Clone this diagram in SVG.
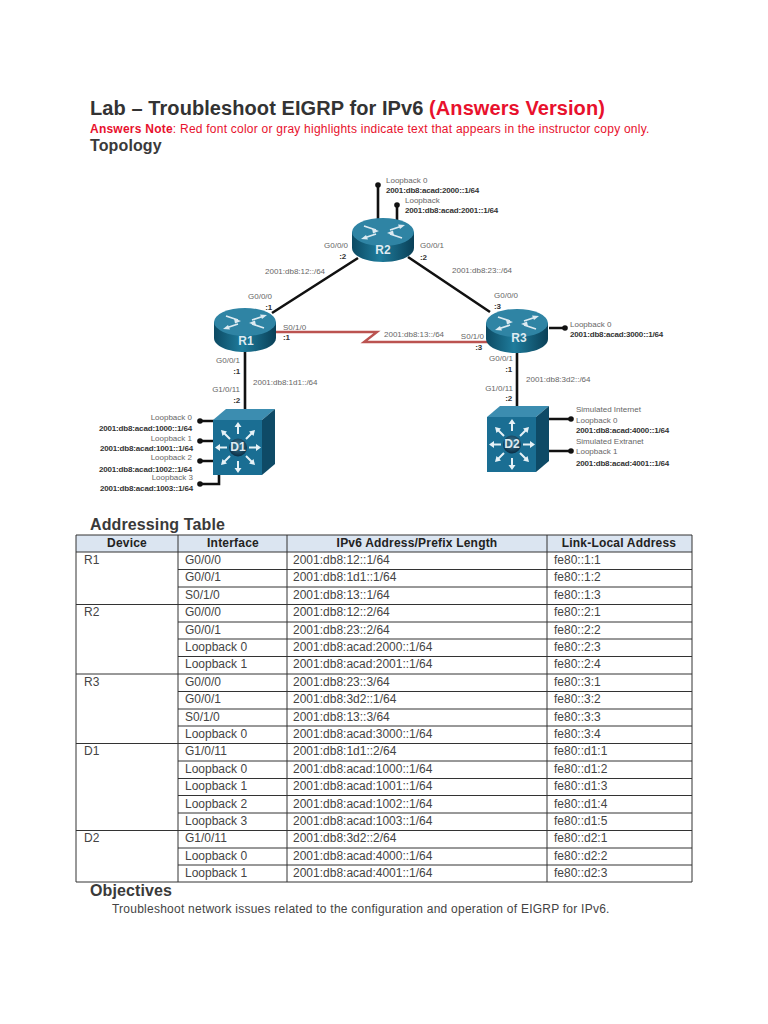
<svg xmlns="http://www.w3.org/2000/svg" width="768" height="1024" viewBox="0 0 768 1024">
<style>
text{font-family:"Liberation Sans",Arial,sans-serif;fill:#333}
.h1{font-size:20px;font-weight:bold;letter-spacing:.08px}
.h2{font-size:16px;font-weight:bold;letter-spacing:.12px;fill:#3a3a3a}
.note{font-size:12px;fill:#e8112d;letter-spacing:.235px}
.l{font-size:8px;fill:#666}
.a{font-size:8px;font-weight:bold;fill:#333;letter-spacing:-.16px}
.dev{font-size:12px;font-weight:bold;fill:#dfeaf1;text-anchor:middle}
.th{font-size:12px;font-weight:bold;text-anchor:middle;fill:#222;letter-spacing:.2px}
.td{font-size:12px;fill:#444}
.ob{letter-spacing:.24px}
.e{text-anchor:end}
.grid{stroke:#333;stroke-width:1;fill:none}
.link{stroke:#111;stroke-width:2.600;fill:none}
.dot{fill:#111}
</style>
<defs>
<linearGradient id="rb" x1="0" x2="1" y1="0" y2="0"><stop offset="0" stop-color="#0c4a63"/><stop offset=".45" stop-color="#1f7c9c"/><stop offset="1" stop-color="#0a4057"/></linearGradient>
<radialGradient id="ball" cx=".5" cy=".4" r=".6"><stop offset="0" stop-color="#3e7f9c"/><stop offset="1" stop-color="#0a2d44"/></radialGradient>
<g id="router">
<path d="M-31-8V8C-31 16-17 22 0 22S31 16 31 8V-8Z" fill="url(#rb)"/>
<ellipse cx="0" cy="-8" rx="31" ry="14" fill="#2f84a4"/>
<g stroke="#dceaf1" stroke-width="1.800" fill="none"><path d="M-19-14L-7-10M19-14L7-10M-19-2L-7-6M19-2L7-6"/></g>
<path d="M-4-9l-7-2.500 1 5zM22-15l-7-.5 2 4.500zM-22-1l7 .5-2-4.500zM4-7l7 2.500-1-5z" fill="#dceaf1"/>
</g>
<g id="switch">
<path d="M0 0L13-11H62L49 0Z" fill="#3c8db0"/>
<path d="M49 0L62-11V44L49 55Z" fill="#0e4a66"/>
<rect width="49" height="55" fill="#1a6e93"/>
<g stroke="#e6f1f6" stroke-width="2" fill="none">
<path d="M25 14V5M25 41V50M14 27.500H5M36 27.500H45M17 19L11 13M33 19L39 13M17 36L11 42M33 36L39 42"/>
</g>
<g fill="#e6f1f6"><path d="M25 2l-3.500 5h7zM25 53l-3.500-5h7zM2 27.500l5-3.500v7zM48 27.500l-5-3.500v7zM8 10l6 1.500-4.500 4.500zM42 10l-6 1.500 4.500 4.500zM8 45l6-1.500-4.500-4.500zM42 45l-6-1.500 4.500-4.500z"/></g>
<circle cx="25" cy="27.500" r="9" fill="url(#ball)"/>
</g>
</defs>

<rect width="768" height="1024" fill="#fff"/>

<g id="heading">
<text x="90" y="115" class="h1">Lab – Troubleshoot EIGRP for IPv6 <tspan fill="#e8112d">(Answers Version)</tspan></text>
<text x="90" y="133" class="note"><tspan font-weight="bold">Answers Note</tspan>: Red font color or gray highlights indicate text that appears in the instructor copy only.</text>
<text x="90" y="151" class="h2">Topology</text>
</g>

<g id="connectors">
<path class="link" d="M272 313L358 258M408 257L490 312M245 350V420M517 352V408"/>
<path d="M276 332H377L364 342H490" fill="none" stroke="#bb5350" stroke-width="2.400"/>
<path class="link" d="M378 185V220M397 205V220"/>
<path class="link" d="M549 328H565M538 419H571M538 451H571"/>
<path class="link" d="M200 421H215M200 441H215M200 461H215M200 484H219V474"/>
<g class="dot"><circle cx="378" cy="185" r="2.800"/><circle cx="397" cy="205" r="2.800"/><circle cx="565" cy="328" r="2.800"/><circle cx="571" cy="419" r="2.800"/><circle cx="571" cy="451" r="2.800"/><circle cx="200" cy="421" r="2.800"/><circle cx="200" cy="441" r="2.800"/><circle cx="200" cy="461" r="2.800"/><circle cx="200" cy="484" r="2.800"/></g>
</g>

<g id="R2">
<use href="#router" x="383" y="240"/>
<text x="383" y="254" class="dev">R2</text>
<text x="386" y="183" class="l">Loopback 0</text>
<text x="386" y="193" class="a">2001:db8:acad:2000::1/64</text>
<text x="405" y="203" class="l">Loopback</text>
<text x="405" y="213" class="a">2001:db8:acad:2001::1/64</text>
<text x="348" y="248" class="l e">G0/0/0</text>
<text x="346" y="259" class="a e">:2</text>
<text x="420" y="248" class="l">G0/0/1</text>
<text x="420" y="260" class="a">:2</text>
<text x="265" y="274" class="l">2001:db8:12::/64</text>
<text x="452" y="273" class="l">2001:db8:23::/64</text>
</g>

<g id="R1">
<use href="#router" x="245" y="330"/>
<text x="246" y="345" class="dev">R1</text>
<text x="248" y="299" class="l">G0/0/0</text>
<text x="272" y="310" class="a e">:1</text>
<text x="283" y="330" class="l">S0/1/0</text>
<text x="283" y="340" class="a">:1</text>
<text x="240" y="363" class="l e">G0/0/1</text>
<text x="240" y="374" class="a e">:1</text>
<text x="384" y="337" class="l">2001:db8:13::/64</text>
</g>

<g id="R3">
<use href="#router" x="517" y="331"/>
<text x="519" y="342" class="dev">R3</text>
<text x="494" y="298" class="l">G0/0/0</text>
<text x="494" y="309" class="a">:3</text>
<text x="484" y="339" class="l e">S0/1/0</text>
<text x="482" y="350" class="a e">:3</text>
<text x="513" y="361" class="l e">G0/0/1</text>
<text x="512" y="372" class="a e">:1</text>
<text x="570" y="327" class="l">Loopback 0</text>
<text x="570" y="337" class="a">2001:db8:acad:3000::1/64</text>
<text x="526" y="382" class="l">2001:db8:3d2::/64</text>
</g>

<g id="D1">
<use href="#switch" x="213" y="420"/>
<text x="238" y="451" class="dev">D1</text>
<text x="240" y="392" class="l e">G1/0/11</text>
<text x="240" y="403" class="a e">:2</text>
<text x="253" y="385" class="l">2001:db8:1d1::/64</text>
<text x="192" y="420" class="l e">Loopback 0</text>
<text x="192" y="431" class="a e">2001:db8:acad:1000::1/64</text>
<text x="192" y="441" class="l e">Loopback 1</text>
<text x="193" y="451" class="a e">2001:db8:acad:1001::1/64</text>
<text x="192" y="460" class="l e">Loopback 2</text>
<text x="192" y="472" class="a e">2001:db8:acad:1002::1/64</text>
<text x="193" y="480" class="l e">Loopback 3</text>
<text x="193" y="491" class="a e">2001:db8:acad:1003::1/64</text>
</g>

<g id="D2">
<use href="#switch" x="487" y="417"/>
<text x="512" y="448" class="dev">D2</text>
<text x="513" y="391" class="l e">G1/0/11</text>
<text x="512" y="401" class="a e">:2</text>
<text x="576" y="412" class="l">Simulated Internet</text>
<text x="576" y="423" class="l">Loopback 0</text>
<text x="576" y="433" class="a">2001:db8:acad:4000::1/64</text>
<text x="576" y="444" class="l">Simulated Extranet</text>
<text x="576" y="454" class="l">Loopback 1</text>
<text x="576" y="466" class="a">2001:db8:acad:4001::1/64</text>
</g>

<g id="table">
<text x="90" y="530" class="h2">Addressing Table</text>
<rect x="76" y="535" width="616" height="17" fill="#dbe5f1"/>
<path class="grid" d="M76 535H692V882H76ZM76 552H692M178 535V882M287 535V882M547 535V882"/>
<path class="grid" d="M178 569.500H692M178 587H692M76 604.500H692M178 622H692M178 639H692M178 656.500H692M76 674H692M178 691.500H692M178 709H692M178 726H692M76 743.500H692M178 761H692M178 778.500H692M178 795.500H692M178 813H692M76 830.500H692M178 848H692M178 865H692"/>
<text x="127" y="547" class="th">Device</text><text x="233" y="547" class="th">Interface</text><text x="417" y="547" class="th">IPv6 Address/Prefix Length</text><text x="619" y="547" class="th">Link-Local Address</text>
<g class="td">
<text x="84" y="564" class="td">R1</text><text x="84" y="616" class="td">R2</text><text x="84" y="686" class="td">R3</text><text x="84" y="755" class="td">D1</text><text x="84" y="842" class="td">D2</text>
<text x="185" y="564" class="td">G0/0/0</text><text x="293" y="564" class="td">2001:db8:12::1/64</text><text x="554" y="564" class="td">fe80::1:1</text>
<text x="185" y="581" class="td">G0/0/1</text><text x="293" y="581" class="td">2001:db8:1d1::1/64</text><text x="554" y="581" class="td">fe80::1:2</text>
<text x="185" y="599" class="td">S0/1/0</text><text x="293" y="599" class="td">2001:db8:13::1/64</text><text x="554" y="599" class="td">fe80::1:3</text>
<text x="185" y="616" class="td">G0/0/0</text><text x="293" y="616" class="td">2001:db8:12::2/64</text><text x="554" y="616" class="td">fe80::2:1</text>
<text x="185" y="634" class="td">G0/0/1</text><text x="293" y="634" class="td">2001:db8:23::2/64</text><text x="554" y="634" class="td">fe80::2:2</text>
<text x="185" y="651" class="td">Loopback 0</text><text x="293" y="651" class="td">2001:db8:acad:2000::1/64</text><text x="554" y="651" class="td">fe80::2:3</text>
<text x="185" y="668" class="td">Loopback 1</text><text x="293" y="668" class="td">2001:db8:acad:2001::1/64</text><text x="554" y="668" class="td">fe80::2:4</text>
<text x="185" y="686" class="td">G0/0/0</text><text x="293" y="686" class="td">2001:db8:23::3/64</text><text x="554" y="686" class="td">fe80::3:1</text>
<text x="185" y="703" class="td">G0/0/1</text><text x="293" y="703" class="td">2001:db8:3d2::1/64</text><text x="554" y="703" class="td">fe80::3:2</text>
<text x="185" y="721" class="td">S0/1/0</text><text x="293" y="721" class="td">2001:db8:13::3/64</text><text x="554" y="721" class="td">fe80::3:3</text>
<text x="185" y="738" class="td">Loopback 0</text><text x="293" y="738" class="td">2001:db8:acad:3000::1/64</text><text x="554" y="738" class="td">fe80::3:4</text>
<text x="185" y="755" class="td">G1/0/11</text><text x="293" y="755" class="td">2001:db8:1d1::2/64</text><text x="554" y="755" class="td">fe80::d1:1</text>
<text x="185" y="773" class="td">Loopback 0</text><text x="293" y="773" class="td">2001:db8:acad:1000::1/64</text><text x="554" y="773" class="td">fe80::d1:2</text>
<text x="185" y="790" class="td">Loopback 1</text><text x="293" y="790" class="td">2001:db8:acad:1001::1/64</text><text x="554" y="790" class="td">fe80::d1:3</text>
<text x="185" y="808" class="td">Loopback 2</text><text x="293" y="808" class="td">2001:db8:acad:1002::1/64</text><text x="554" y="808" class="td">fe80::d1:4</text>
<text x="185" y="825" class="td">Loopback 3</text><text x="293" y="825" class="td">2001:db8:acad:1003::1/64</text><text x="554" y="825" class="td">fe80::d1:5</text>
<text x="185" y="842" class="td">G1/0/11</text><text x="293" y="842" class="td">2001:db8:3d2::2/64</text><text x="554" y="842" class="td">fe80::d2:1</text>
<text x="185" y="860" class="td">Loopback 0</text><text x="293" y="860" class="td">2001:db8:acad:4000::1/64</text><text x="554" y="860" class="td">fe80::d2:2</text>
<text x="185" y="877" class="td">Loopback 1</text><text x="293" y="877" class="td">2001:db8:acad:4001::1/64</text><text x="554" y="877" class="td">fe80::d2:3</text>
</g>
</g>

<g id="objectives">
<text x="90" y="896" class="h2">Objectives</text>
<text x="112" y="913" class="td ob">Troubleshoot network issues related to the configuration and operation of EIGRP for IPv6.</text>
</g>
</svg>
